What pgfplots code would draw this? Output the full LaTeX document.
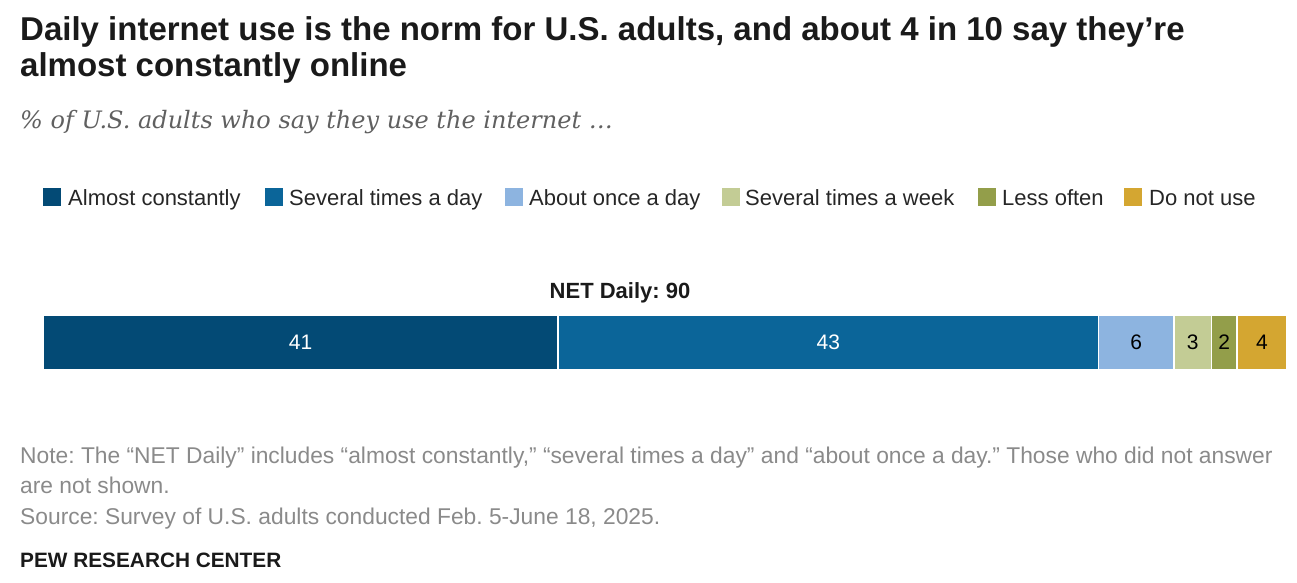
\documentclass[border=0pt]{standalone}
\usepackage{pgfplots}
\pgfplotsset{compat=1.18}
\usepackage{fontspec}
\setmainfont{Liberation Sans}
\newfontfamily\subfont{DejaVu Serif}
\frenchspacing

\definecolor{cA}{HTML}{034A75}
\definecolor{cB}{HTML}{0B6599}
\definecolor{cC}{HTML}{8DB4E0}
\definecolor{cD}{HTML}{C3CC95}
\definecolor{cE}{HTML}{939E4A}
\definecolor{cF}{HTML}{D4A631}
\definecolor{titlec}{HTML}{1A1A1A}
\definecolor{subc}{HTML}{606060}
\definecolor{notec}{HTML}{8A8A8A}
\definecolor{legc}{HTML}{262626}

\pgfplotsset{barbox/.style={
    at={(43pt,-370pt)}, anchor=south west,
    scale only axis, width=1244pt, height=55pt,
    hide axis, clip=false,
    xmin=0, xmax=99, ymin=-0.5, ymax=0.5}}

\begin{document}
\begin{tikzpicture}
\useasboundingbox (0pt,0pt) rectangle (1297pt,-582pt);

% title and subtitle
\node[anchor=base west, inner sep=0, text=titlec, font=\fontsize{33}{36}\selectfont\bfseries]
  at (20pt,-40pt) {Daily internet use is the norm for U.S. adults, and about 4 in 10 say they’re};
\node[anchor=base west, inner sep=0, text=titlec, font=\fontsize{33}{36}\selectfont\bfseries]
  at (20pt,-76pt) {almost constantly online};
\node[anchor=base west, inner sep=0, text=subc, font=\fontsize{24}{30}\selectfont\subfont\itshape]
  at (20pt,-128pt) {\% of U.S. adults who say they use the internet …};

% legend
\foreach \sx/\tx/\c/\t in {43/68/cA/Almost constantly, 265/289/cB/Several times a day,
    505/529/cC/About once a day, 722/745/cD/Several times a week,
    978/1002/cE/Less often, 1124/1149/cF/Do not use}{
  \fill[\c] (\sx pt,-188pt) rectangle ++(18pt,-18pt);
  \node[anchor=base west, inner sep=0, text=legc, font=\fontsize{22}{26}\selectfont]
    at (\tx pt,-205pt) {\t};
}

\node[anchor=base, inner sep=0, text=titlec, font=\fontsize{22}{26}\selectfont\bfseries]
  at (620pt,-298pt) {NET Daily: 90};

% the stacked bar
\begin{axis}[barbox, xbar stacked, bar width=55pt]
  \addplot[fill=cA, draw=white, line width=1.5pt] coordinates {(41,0)};
  \addplot[fill=cB, draw=white, line width=1.5pt] coordinates {(43,0)};
  \addplot[fill=cC, draw=white, line width=1.5pt] coordinates {(6,0)};
  \addplot[fill=cD, draw=white, line width=1.5pt] coordinates {(3,0)};
  \addplot[fill=cE, draw=white, line width=1.5pt] coordinates {(2,0)};
  \addplot[fill=cF, draw=white, line width=1.5pt] coordinates {(4,0)};
\end{axis}

% value labels at the middle of each segment
\begin{axis}[barbox,
    point meta=explicit symbolic,
    nodes near coords,
    every node near coord/.append style={anchor=center, font=\fontsize{21}{24}\selectfont},
  ]
  \addplot[draw=none, mark=none, nodes near coords style={text=white}]
    coordinates {(20.5,0) [41] (62.5,0) [43]};
  \addplot[draw=none, mark=none, nodes near coords style={text=black}]
    coordinates {(87,0) [6] (91.5,0) [3] (94,0) [2] (97,0) [4]};
\end{axis}

% notes
\node[anchor=base west, inner sep=0, text=notec, font=\fontsize{22.8}{26}\selectfont]
  at (20pt,-463pt) {Note: The “NET Daily” includes “almost constantly,” “several times a day” and “about once a day.” Those who did not answer};
\node[anchor=base west, inner sep=0, text=notec, font=\fontsize{22.8}{26}\selectfont]
  at (20pt,-493pt) {are not shown.};
\node[anchor=base west, inner sep=0, text=notec, font=\fontsize{22.8}{26}\selectfont]
  at (20pt,-524pt) {Source: Survey of U.S. adults conducted Feb. 5-June 18, 2025.};
\node[anchor=base west, inner sep=0, text=titlec, font=\fontsize{20.8}{25}\selectfont\bfseries]
  at (20pt,-567pt) {PEW RESEARCH CENTER};
\end{tikzpicture}
\end{document}
